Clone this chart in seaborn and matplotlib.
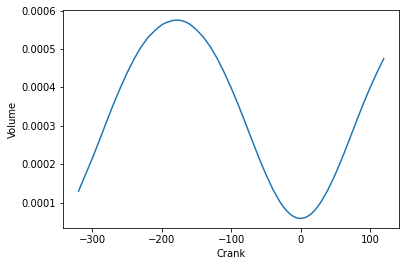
import matplotlib
matplotlib.use("Agg")
import matplotlib.pyplot as plt
import seaborn as sns
import pandas as pd

crank = [-320, -310, -300, -290, -280, -270, -260, -250, -240, -230, -220,
         -210, -205, -200, -195, -190, -185, -180, -175, -170, -165, -160,
         -155, -150, -140, -130, -120, -110, -100, -90, -80, -70, -60, -50,
         -40, -30, -25, -20, -15, -10, -5, 0, 5, 10, 15, 20, 25, 30,
         40, 50, 60, 70, 80, 90, 100, 110, 120]
volume_e4 = [1.30, 1.73, 2.16, 2.62, 3.09, 3.55, 3.98, 4.38, 4.74, 5.05, 5.30,
             5.48, 5.56, 5.63, 5.68, 5.71, 5.74, 5.75, 5.75, 5.73, 5.70, 5.65,
             5.58, 5.50, 5.31, 5.06, 4.75, 4.39, 3.99, 3.56, 3.10, 2.63, 2.17, 1.74,
             1.35, 1.03, 0.90, 0.79, 0.70, 0.64, 0.60, 0.59, 0.60, 0.64, 0.70, 0.79, 0.90, 1.03,
             1.35, 1.73, 2.16, 2.62, 3.09, 3.55, 3.98, 4.38,
             4.75]
volume = [v * 1e-4 for v in volume_e4]

df = pd.DataFrame({"Crank": crank, "Volume": volume})

plt.rcParams["font.size"] = 10
fig = plt.figure(figsize=(404 / 72, 266 / 72), dpi=72)
ax = fig.add_axes([63.3 / 404, (266 - 228.3) / 266, (399 - 63.3) / 404, (228.3 - 10.3) / 266])
sns.lineplot(data=df, x="Crank", y="Volume", ax=ax, color="#1f77b4", linewidth=1.5)
ax.set_xlabel("Crank")
ax.set_ylabel("Volume")
fig.savefig("out.png", dpi=72)
